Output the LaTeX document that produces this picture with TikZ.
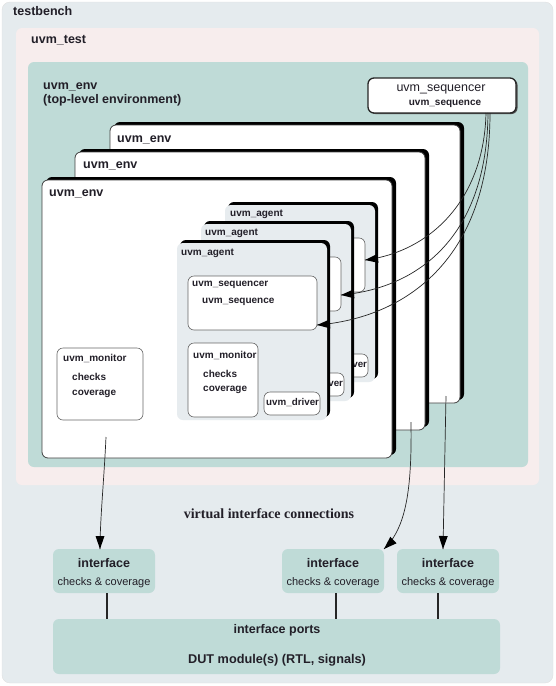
\documentclass[tikz,border=0pt]{standalone}
\usepackage{fontspec}
\setmainfont{Liberation Sans}
\newfontfamily\serifb{Liberation Serif}
\usetikzlibrary{shadows,calc}
\definecolor{tbfill}{HTML}{E5EBEE}
\definecolor{testfill}{HTML}{F7EDED}
\definecolor{tealf}{HTML}{BFDBD7}
\definecolor{agentfill}{HTML}{E7ECEF}
\definecolor{txt}{HTML}{221F28}
\newcommand{\fsz}[1]{\fontsize{#1}{#1}\selectfont}
% filled arrow head at #1, pointing away from #2
\newcommand{\headat}[2]{%
  \path ($(#1)!13pt!(#2)$) coordinate (hbase);
  \fill[black] (#1) -- ($(hbase)!4.5pt!90:(#1)$) -- ($(hbase)!4.5pt!-90:(#1)$) -- cycle;}
\begin{document}
\begin{tikzpicture}[x=1pt,y=-1pt,
 box/.style={anchor=north west, inner sep=0pt, outer sep=0pt},
 lbl/.style={anchor=base west, inner sep=0pt, text=txt},
 clbl/.style={anchor=base, inner sep=0pt, text=txt},
 envbox/.style={box, fill=white, draw=black!75, line width=0.8pt, rounded corners=6pt, minimum width=350pt, minimum height=278pt, drop shadow={shadow xshift=4pt, shadow yshift=3pt, fill=black, opacity=1}},
 agentbox/.style={box, fill=agentfill, rounded corners=6pt, minimum width=150pt, minimum height=177pt, drop shadow={shadow xshift=3pt, shadow yshift=3pt, fill=black, opacity=1}},
 inbox/.style={box, fill=white, draw=black!60, line width=0.6pt, rounded corners=6pt},
 ifbox/.style={box, fill=tealf, rounded corners=6pt, minimum width=102pt, minimum height=44pt},
 conn/.style={draw=black!85, line width=0.7pt},
 wire/.style={draw=black!85, line width=1.1pt},
 bten/.style={font=\bfseries\fsz{10}},
 btw/.style={font=\bfseries\fsz{12.5}},
]
\useasboundingbox (0,0) rectangle (555,686);
% outer containers
\node[box, fill=tbfill, draw=black!12, rounded corners=8pt, minimum width=551pt, minimum height=681pt] (tb) at (2,2) {};
\node[lbl, btw] (tbl) at (13,15) {testbench};
\node[box, fill=testfill, rounded corners=6pt, minimum width=523pt, minimum height=457pt] (test) at (16,28) {};
\node[lbl, btw] (testl) at (31,43) {uvm\_test};
\node[box, fill=tealf, rounded corners=6pt, minimum width=500pt, minimum height=405pt] (topenv) at (28,62) {};
\node[lbl, btw] (topenvl) at (43,89) {uvm\_env};
\node[lbl, btw] (topenvl2) at (43,103) {(top-level environment)};
% top-level sequencer
\node[box, fill=white, draw=black!85, line width=1.3pt, rounded corners=6pt, minimum width=148pt, minimum height=35pt, drop shadow={shadow xshift=1.5pt, shadow yshift=-1pt, fill=black!70, opacity=1}] (tseq) at (368,78) {};
\node[clbl, font=\fsz{12.5}] (tseql) at (441,91) {uvm\_sequencer};
\node[clbl, bten] (tseql2) at (445,105) {uvm\_sequence};
% env stack
\node[envbox] (env3) at (110,125) {};
\node[lbl, btw] (env3l) at (117,142) {uvm\_env};
\node[envbox] (env2) at (75,152) {};
\node[lbl, btw] (env2l) at (83,168) {uvm\_env};
\node[envbox] (env1) at (42,180) {};
\node[lbl, btw] (env1l) at (49,196.5) {uvm\_env};
\node[inbox, minimum width=86pt, minimum height=72pt] (emon) at (57,348) {};
\node[lbl, bten] (emonl) at (63,361) {uvm\_monitor};
\node[lbl, bten] (emonc) at (72,380) {checks};
\node[lbl, bten] (emonv) at (72,395) {coverage};
% back agent
\node[agentbox] (ag3) at (225,205) {};
\node[lbl, bten] (ag3l) at (230,216) {uvm\_agent};
\node[inbox, minimum width=129pt, minimum height=54pt] (seq3) at (236,238) {};
\node[inbox, minimum width=56pt, minimum height=23pt] (drv3) at (312,354) {};
\node[lbl, font=\bfseries\fsz{9.8}] (drv3l) at (314,367) {uvm\_driver};
% middle agent
\node[agentbox] (ag2) at (201,224) {};
\node[lbl, bten] (ag2l) at (205,235) {uvm\_agent};
\node[inbox, minimum width=129pt, minimum height=54pt] (seq2) at (212,257) {};
\node[inbox, minimum width=56pt, minimum height=23pt] (drv2) at (288,373) {};
\node[lbl, font=\bfseries\fsz{9.8}] (drv2l) at (290,386) {uvm\_driver};
% front agent
\node[agentbox] (ag1) at (177,243) {};
\node[lbl, bten] (ag1l) at (181,255) {uvm\_agent};
\node[inbox, minimum width=129pt, minimum height=54pt] (seq1) at (188,276) {};
\node[lbl, bten] (seq1l) at (192,286) {uvm\_sequencer};
\node[lbl, bten] (seq1s) at (202,303) {uvm\_sequence};
\node[inbox, minimum width=70pt, minimum height=74pt] (mon1) at (188,343) {};
\node[lbl, bten] (mon1l) at (193,358) {uvm\_monitor};
\node[lbl, bten] (mon1c) at (203,377) {checks};
\node[lbl, bten] (mon1v) at (203,391) {coverage};
\node[inbox, minimum width=56pt, minimum height=23pt] (drv1) at (264,392) {};
\node[lbl, font=\bfseries\fsz{9.8}] (drv1l) at (266,405) {uvm\_driver};
% sequencer -> agent sequencers
\coordinate (s1) at ([xshift=44pt]tseq.south);
\coordinate (s2) at ([xshift=46pt]tseq.south);
\coordinate (s3) at ([xshift=48pt]tseq.south);
\coordinate (e1) at ([yshift=-22pt]seq3.north east);
\coordinate (e2) at ([yshift=-38pt]seq2.north east);
\coordinate (e3) at ([yshift=-49pt]seq1.north east);
\coordinate (c1) at (430,252);
\coordinate (c2) at (420,288);
\coordinate (c3) at (405,318);
\draw[conn] (s1) .. controls (484,200) and (c1) .. (e1);
\draw[conn] (s2) .. controls (487,235) and (c2) .. (e2);
\draw[conn] (s3) .. controls (490,260) and (c3) .. (e3);
\headat{e1}{c1}
\headat{e2}{c2}
\headat{e3}{c3}
% interfaces and DUT
\node[ifbox] (if1) at (53,549) {};
\node[clbl, btw] (if1l) at (104,567) {interface};
\node[clbl, font=\fsz{11}] (if1c) at (104,585) {checks \& coverage};
\node[ifbox] (if2) at (282,549) {};
\node[clbl, btw] (if2l) at (333,567) {interface};
\node[clbl, font=\fsz{11}] (if2c) at (333,585) {checks \& coverage};
\node[ifbox] (if3) at (397,549) {};
\node[clbl, btw] (if3l) at (448,567) {interface};
\node[clbl, font=\fsz{11}] (if3c) at (448,585) {checks \& coverage};
\node[box, fill=tealf, rounded corners=6pt, minimum width=447pt, minimum height=55pt] (dut) at (53,619) {};
\node[clbl, btw] (dutp) at (277,633) {interface ports};
\node[clbl, font=\bfseries\fsz{12.7}] (dutl) at (277,663) {DUT module(s) (RTL, signals)};
\node[clbl, font=\serifb\bfseries\fsz{14}] (vic) at (269,518) {virtual interface connections};
% env -> interface connections
\coordinate (m1) at (106,437);
\coordinate (m2) at (411,422);
\coordinate (m3) at (446,396);
\coordinate (t1) at ([xshift=-4pt]if1.north);
\coordinate (t2) at (if2.north east);
\coordinate (t3) at ([xshift=-5pt]if3.north);
\coordinate (d1) at (100,520);
\coordinate (d2) at (406,528);
\draw[conn] (m1) .. controls (104,480) and (d1) .. (t1);
\draw[conn] (m2) .. controls (412,490) and (d2) .. (t2);
\draw[conn] (m3) -- (t3);
\headat{t1}{d1}
\headat{t2}{d2}
\headat{t3}{m3}
% interface -> DUT wires
\draw[wire] ($(if1.south)+(3,0)$) -- ++(0,26);
\draw[wire] ($(if2.south)+(3,0)$) -- ++(0,26);
\draw[wire] ($(if3.south)+(-10,0)$) -- ++(0,26);
\end{tikzpicture}
\end{document}
